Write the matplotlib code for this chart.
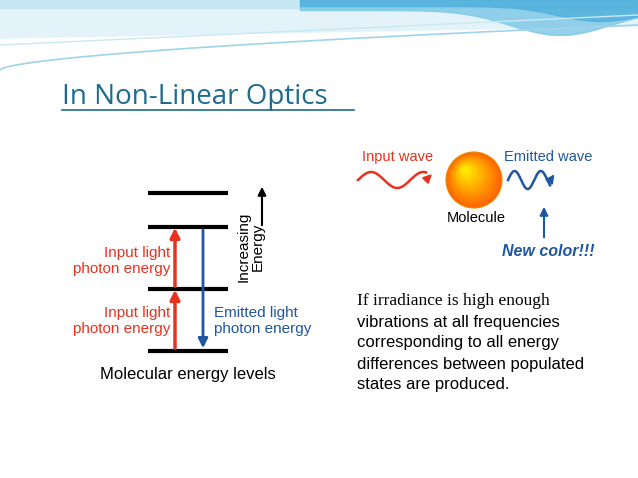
import numpy as np
import matplotlib.pyplot as plt
from matplotlib.patches import Circle

plt.rcParams['font.family'] = ['Liberation Sans', 'DejaVu Sans']

# energy level diagram values (pixel coordinates of the slide)
level_y = [193, 227, 289, 351]
up_arrows = [(351, 289), (289, 227)]
down_arrow = (227, 351)
para_lines = ["If irradiance is high enough",
              "vibrations at all frequencies",
              "corresponding to all energy",
              "differences between populated",
              "states are produced."]

RED = '#e8321e'
BLUE = '#1f56a0'

fig = plt.figure(figsize=(6.38, 4.78), dpi=100)
ax = fig.add_axes([0, 0, 1, 1])
ax.set_xlim(0, 638)
ax.set_ylim(478, 0)
ax.axis('off')

# ── decorative waves at the top ────────────────────────────────────────────
x = np.linspace(0, 638, 300)
ax.fill_between(x, 0, 38 - 12 * (x / 638), color='#e3f3f9')
ax.fill_between(x, 0, 8 + 0 * x, color='#c6e7f3')
ax.plot(x, 70 - 45 * (x / 638) ** 0.6, color='#9fd3ea', lw=1.2)
ax.plot(x, 45 - 30 * (x / 638), color='#c9e8f4', lw=1)
xr = np.linspace(300, 638, 200)
ax.fill_between(xr, 0, 10 + 25 * np.exp(-((xr - 560) / 70) ** 2), color='#7cc6e6', alpha=0.8)
ax.fill_between(xr, 0, 6 + 15 * np.exp(-((xr - 600) / 60) ** 2), color='#4fb0dc', alpha=0.8)

# ── title ──────────────────────────────────────────────────────────────────
ax.text(62, 97, "In Non-Linear Optics", fontsize=20, color='#1f6b8e',
        ha='left', va='center', family='Open Sans')
ax.plot([62, 354], [110, 110], color='#1f6b8e', lw=1.2)

# ── energy levels ──────────────────────────────────────────────────────────
for y in level_y:
    ax.plot([148, 228], [y, y], color='black', lw=3, solid_capstyle='butt')
for y0, y1 in up_arrows:
    ax.annotate('', xy=(175, y1 - 2), xytext=(175, y0),
                arrowprops=dict(arrowstyle='-|>', color=RED, lw=2.5, mutation_scale=14))
ax.annotate('', xy=(203, down_arrow[1]), xytext=(203, down_arrow[0]),
            arrowprops=dict(arrowstyle='-|>', color=BLUE, lw=2, mutation_scale=14))
ax.annotate('', xy=(262, 184), xytext=(262, 228),
            arrowprops=dict(arrowstyle='-|>', color='black', lw=1.5, mutation_scale=12))

ax.text(170, 261, "Input light\nphoton energy", color=RED, fontsize=11,
        ha='right', va='center', linespacing=1.2)
ax.text(170, 321, "Input light\nphoton energy", color=RED, fontsize=11,
        ha='right', va='center', linespacing=1.2)
ax.text(214, 321, "Emitted light\nphoton energy", color=BLUE, fontsize=11,
        ha='left', va='center', linespacing=1.2)
ax.text(251, 247, "Increasing\nEnergy", color='black', fontsize=11,
        ha='center', va='center', rotation=90, linespacing=1.0)
ax.text(188, 375, "Molecular energy levels", color='black', fontsize=12,
        ha='center', va='center')

# ── molecule diagram ───────────────────────────────────────────────────────
ax.text(362, 157, "Input wave", color=RED, fontsize=10.5, ha='left', va='center')
wx = np.linspace(358, 426, 200)
ax.plot(wx, 180 - 8 * np.sin((wx - 358) / 68 * 2.6 * np.pi), color=RED, lw=1.8)
ax.annotate('', xy=(434, 172), xytext=(424, 182),
            arrowprops=dict(arrowstyle='-|>', color=RED, lw=1.5, mutation_scale=12))

for r, c in zip(np.linspace(28, 4, 12), plt.cm.autumn_r(np.linspace(0.6, 0.1, 12))):
    ax.add_patch(Circle((474 - (28 - r) * 0.35, 180 - (28 - r) * 0.4), r, color=c, lw=0))
ax.add_patch(Circle((474, 180), 28, fill=False, ec='#e88a00', lw=0.8))
ax.text(476, 218, "Molecule", color='black', fontsize=10.5, ha='center', va='center')

ax.text(548, 157, "Emitted wave", color=BLUE, fontsize=10.5, ha='center', va='center')
bx = np.linspace(508, 550, 200)
ax.plot(bx, 180 - 9 * np.sin((bx - 508) / 42 * 3.2 * np.pi), color=BLUE, lw=1.8)
ax.annotate('', xy=(556, 172), xytext=(549, 182),
            arrowprops=dict(arrowstyle='-|>', color=BLUE, lw=1.5, mutation_scale=12))
ax.annotate('', xy=(544, 204), xytext=(544, 240),
            arrowprops=dict(arrowstyle='-|>', color=BLUE, lw=1.5, mutation_scale=12))
ax.text(548, 251, "New color!!!", color=BLUE, fontsize=11.5, fontweight='bold',
        style='italic', ha='center', va='center')

# ── paragraph ──────────────────────────────────────────────────────────────
for i, line in enumerate(para_lines):
    fam = 'Liberation Serif' if i == 0 else 'Liberation Sans'
    fs = 12.5 if i == 0 else 12
    ax.text(357, 301 + i * 21, line, fontsize=fs, family=fam, ha='left', va='center')

fig.savefig("out.png", dpi=100)
